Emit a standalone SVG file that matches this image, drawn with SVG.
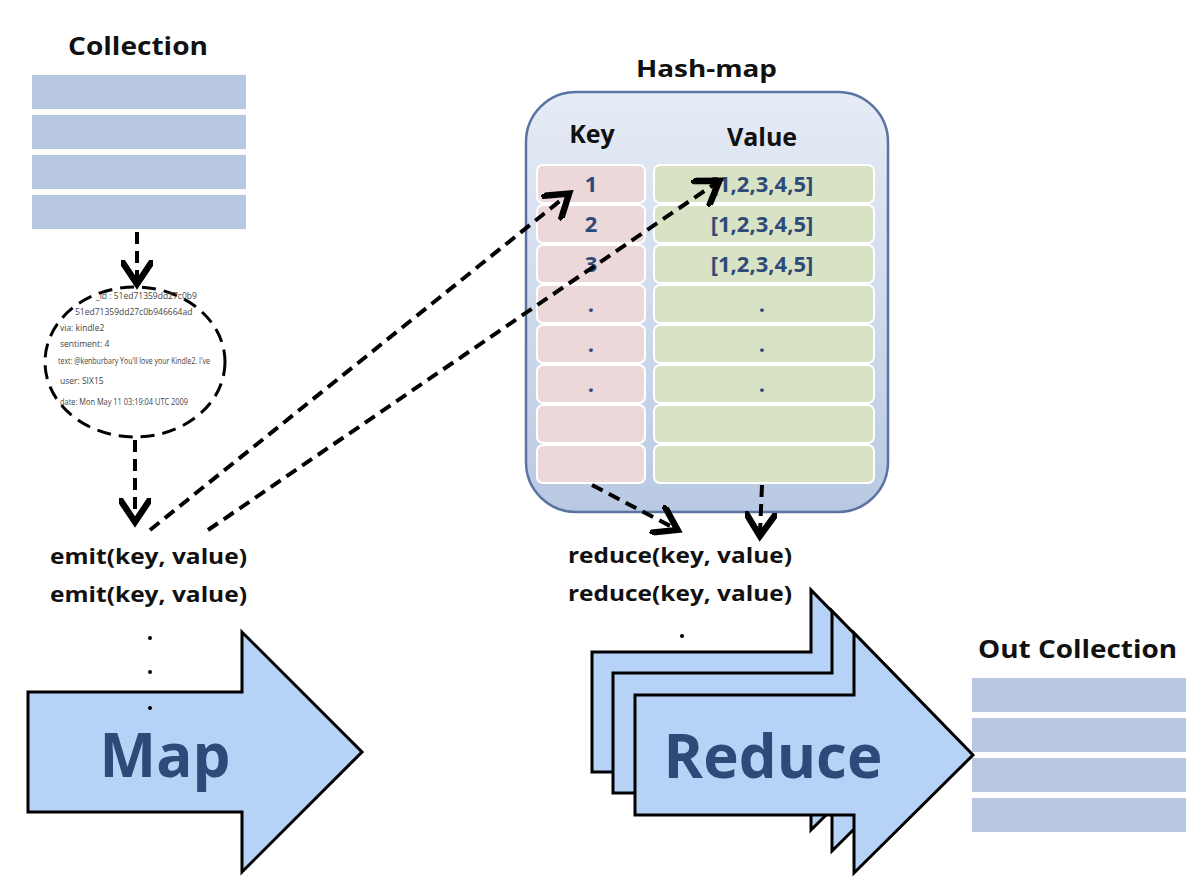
<svg xmlns="http://www.w3.org/2000/svg" width="1188" height="878" viewBox="0 0 1188 878">
<style>
.t{font-family:"Open Sans","Liberation Sans",sans-serif;font-weight:bold;fill:#111}
.bar{fill:#b8c8e0}
.k{fill:#ecd8d8;stroke:#fff;stroke-width:2}
.v{fill:#d8e2c4;stroke:#fff;stroke-width:2}
.n{font-family:"Open Sans","Liberation Sans",sans-serif;font-weight:bold;fill:#2f4a78;font-size:22px;text-anchor:middle}
.big{font-family:"Open Sans","Liberation Sans",sans-serif;font-weight:bold;fill:#2f4a78;font-size:60px;text-anchor:middle}
.arr{fill:#b6d2f6;stroke:#000;stroke-width:3}
.d{stroke:#000;stroke-width:4;stroke-dasharray:12 7;fill:none;marker-end:url(#ah)}
.s{font-family:"Open Sans","Liberation Sans",sans-serif;font-size:8.5px;fill:#444}
</style>
<defs>
<marker id="ah" markerWidth="8" markerHeight="8" refX="5" refY="4" orient="auto" markerUnits="strokeWidth"><path d="M0,0 L6,4 L0,8" fill="none" stroke="#000" stroke-width="1.6"/></marker>
<linearGradient id="hg" x1="0" y1="0" x2="0" y2="1"><stop offset="0" stop-color="#e6ecf6"/><stop offset="1" stop-color="#b9c9e3"/></linearGradient>
</defs>
<rect width="1188" height="878" fill="#fff"/>
<g id="collection">
<text class="t" x="68" y="55" font-size="25" textLength="140" lengthAdjust="spacingAndGlyphs">Collection</text>
<rect class="bar" x="32" y="75" width="214" height="34"/>
<rect class="bar" x="32" y="115" width="214" height="34"/>
<rect class="bar" x="32" y="155" width="214" height="34"/>
<rect class="bar" x="32" y="195" width="214" height="34"/>
</g>
<g id="document">
<ellipse cx="135" cy="362" rx="90" ry="75" fill="#fff" stroke="#000" stroke-width="3" stroke-dasharray="14 8"/>
<text class="s" x="96" y="299">_id : 51ed71359dd27c0b9</text>
<text class="s" x="75" y="315">51ed71359dd27c0b946664ad</text>
<text class="s" x="60" y="331">via: kindle2</text>
<text class="s" x="60" y="347">sentiment: 4</text>
<text class="s" x="58" y="364" textLength="152" lengthAdjust="spacingAndGlyphs">text: @kenburbary You'll love your Kindle2. I've</text>
<text class="s" x="60" y="384">user: SIX15</text>
<text class="s" x="60" y="405" textLength="128" lengthAdjust="spacingAndGlyphs">date: Mon May 11 03:19:04 UTC 2009</text>
</g>
<g id="map">
<polygon class="arr" points="28,692 242,692 242,632 362,752 242,872 242,812 28,812"/>
<text class="big" x="165" y="777">Map</text>
</g>
<g id="emit">
<text class="t" x="50" y="564" font-size="22" textLength="197" lengthAdjust="spacingAndGlyphs">emit(key, value)</text>
<text class="t" x="50" y="602" font-size="22" textLength="197" lengthAdjust="spacingAndGlyphs">emit(key, value)</text>
<circle cx="150" cy="638" r="2"/><circle cx="150" cy="672" r="2"/><circle cx="150" cy="708" r="2"/>
</g>
<g id="hashmap">
<text class="t" x="636" y="77" font-size="24" textLength="141" lengthAdjust="spacingAndGlyphs">Hash-map</text>
<rect x="526" y="92" width="362" height="420" rx="50" fill="url(#hg)" stroke="#5a73a0" stroke-width="2.5"/>
<text class="t" x="592" y="143" font-size="25" text-anchor="middle">Key</text>
<text class="t" x="762" y="146" font-size="25" text-anchor="middle">Value</text>
<g>
<rect class="k" x="537" y="165" width="108" height="38" rx="6"/><rect class="v" x="654" y="165" width="220" height="38" rx="6"/>
<rect class="k" x="537" y="205" width="108" height="38" rx="6"/><rect class="v" x="654" y="205" width="220" height="38" rx="6"/>
<rect class="k" x="537" y="245" width="108" height="38" rx="6"/><rect class="v" x="654" y="245" width="220" height="38" rx="6"/>
<rect class="k" x="537" y="285" width="108" height="38" rx="6"/><rect class="v" x="654" y="285" width="220" height="38" rx="6"/>
<rect class="k" x="537" y="325" width="108" height="38" rx="6"/><rect class="v" x="654" y="325" width="220" height="38" rx="6"/>
<rect class="k" x="537" y="365" width="108" height="38" rx="6"/><rect class="v" x="654" y="365" width="220" height="38" rx="6"/>
<rect class="k" x="537" y="405" width="108" height="38" rx="6"/><rect class="v" x="654" y="405" width="220" height="38" rx="6"/>
<rect class="k" x="537" y="445" width="108" height="38" rx="6"/><rect class="v" x="654" y="445" width="220" height="38" rx="6"/>
</g>
<text class="n" x="591" y="192">1</text><text class="n" x="762" y="192">[1,2,3,4,5]</text>
<text class="n" x="591" y="232">2</text><text class="n" x="762" y="232">[1,2,3,4,5]</text>
<text class="n" x="591" y="272">3</text><text class="n" x="762" y="272">[1,2,3,4,5]</text>
<text class="n" x="591" y="312">.</text><text class="n" x="762" y="312">.</text>
<text class="n" x="591" y="352">.</text><text class="n" x="762" y="352">.</text>
<text class="n" x="591" y="392">.</text><text class="n" x="762" y="392">.</text>
</g>
<g id="reduce">
<polygon class="arr" points="592,652 811,652 811,590 930,712 811,830 811,772 592,772"/>
<polygon class="arr" points="613,673 832,673 832,611 951,733 832,851 832,793 613,793"/>
<polygon class="arr" points="635,695 854,695 854,633 973,755 854,873 854,815 635,815"/>
<text class="big" x="773" y="778">Reduce</text>
</g>
<g id="reduceText">
<text class="t" x="568" y="563" font-size="22" textLength="224" lengthAdjust="spacingAndGlyphs">reduce(key, value)</text>
<text class="t" x="568" y="601" font-size="22" textLength="224" lengthAdjust="spacingAndGlyphs">reduce(key, value)</text>
<circle cx="682" cy="636" r="2"/>
</g>
<g id="outCollection">
<text class="t" x="978" y="658" font-size="25" textLength="199" lengthAdjust="spacingAndGlyphs">Out Collection</text>
<rect class="bar" x="972" y="678" width="214" height="34"/>
<rect class="bar" x="972" y="718" width="214" height="34"/>
<rect class="bar" x="972" y="758" width="214" height="34"/>
<rect class="bar" x="972" y="798" width="214" height="34"/>
</g>
<g id="connectors">
<line class="d" x1="137" y1="232" x2="137" y2="280"/>
<line class="d" x1="135" y1="440" x2="135" y2="518"/>
<line class="d" x1="150" y1="530" x2="566" y2="196"/>
<line class="d" x1="208" y1="530" x2="716" y2="183"/>
<line class="d" x1="592" y1="485" x2="674" y2="528"/>
<line class="d" x1="762" y1="485" x2="760" y2="532"/>
</g>
</svg>
